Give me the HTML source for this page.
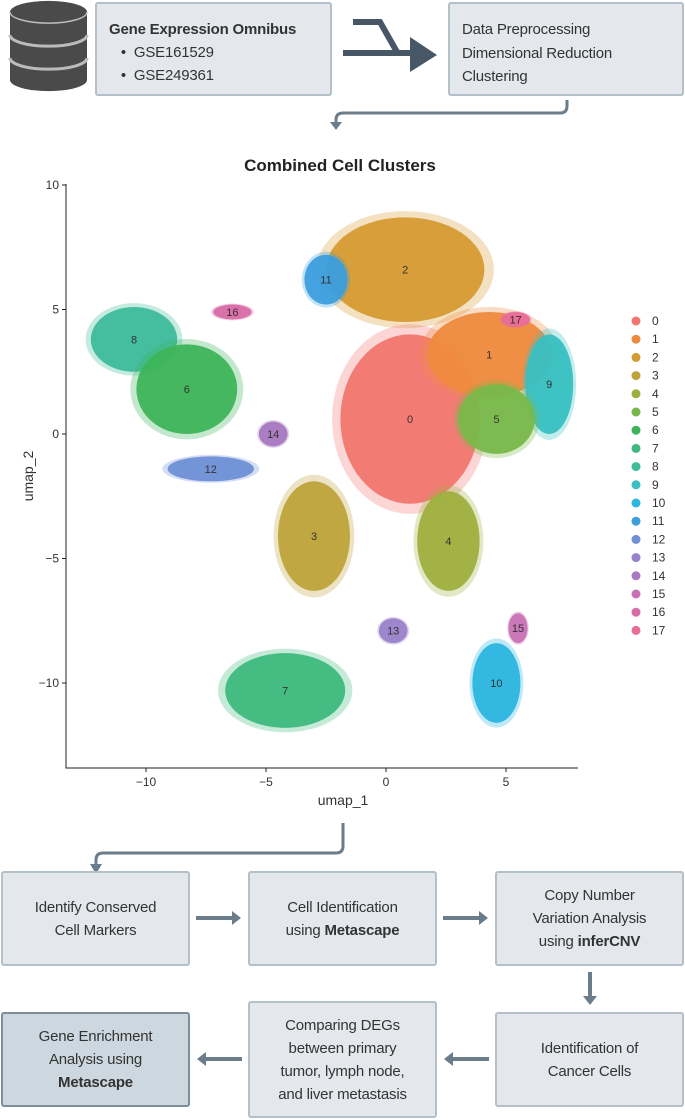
<!DOCTYPE html>
<html><head><meta charset="utf-8"><style>
body{margin:0;width:685px;height:1120px;background:#fff;font-family:"Liberation Sans",sans-serif;position:relative;overflow:hidden}
.box{position:absolute;box-sizing:border-box;background:#e4e8ec;border:2px solid #b3bfc9;border-radius:3px;color:#333;font-size:15px;letter-spacing:-0.2px;display:flex;align-items:center;justify-content:center;text-align:center;line-height:23px}
svg{position:absolute;left:0;top:0}
</style></head><body>
<svg width="685" height="1120">
<g fill="#4a4a4a">
<path d="M10,12 a38,11 0 0 1 77,0 v68 a38,11 0 0 1 -77,0 z"/>
<path d="M10,35 a38,11 0 0 0 77,0" fill="none" stroke="#bbb" stroke-width="3"/>
<path d="M10,58 a38,11 0 0 0 77,0" fill="none" stroke="#bbb" stroke-width="3"/>
<path d="M10,12 a38,11 0 0 0 77,0" fill="none" stroke="#bbb" stroke-width="1.5"/>
</g>
<g stroke="#475766" stroke-width="6" fill="none">
<path d="M353,22 H380 L397,52"/><path d="M343,53 H412"/>
<polygon points="410,37 437,55 410,72" fill="#475766" stroke="none"/>
</g>
<g stroke="#6b7c8a" stroke-width="3" fill="none">
<path d="M567,100 V106 Q567,113 560,113 H343 Q336,113 336,120 V124"/>
<polygon points="330,122 342,122 336,130" fill="#6b7c8a" stroke="none"/>
</g>
<g stroke="#6b7c8a" stroke-width="3" fill="none">
<path d="M343,823 V846 Q343,853 336,853 H103 Q96,853 96,860 V866"/>
<polygon points="90,864 102,864 96,874" fill="#6b7c8a" stroke="none"/>
</g>
<g stroke="#6b7c8a" stroke-width="4" fill="#6b7c8a">
<path d="M196,918 H234"/><polygon points="232,911 241,918 232,925" stroke="none"/>
<path d="M443,918 H481"/><polygon points="479,911 488,918 479,925" stroke="none"/>
<path d="M590,972 V998"/><polygon points="583,996 590,1005 597,996" stroke="none"/>
<path d="M489,1059 H451"/><polygon points="453,1052 444,1059 453,1066" stroke="none"/>
<path d="M242,1059 H204"/><polygon points="206,1052 197,1059 206,1066" stroke="none"/>
</g>
<text x="340" y="171" text-anchor="middle" font-size="17" font-weight="bold" fill="#222">Combined Cell Clusters</text>
<g id="plot"></g>
</svg>
<div class="box" style="left:95px;top:2px;width:237px;height:94px;display:block;text-align:left;padding:14px 0 0 12px;line-height:23px"><b>Gene Expression Omnibus</b><br>&nbsp;&nbsp;&nbsp;•&nbsp;&nbsp;GSE161529<br>&nbsp;&nbsp;&nbsp;•&nbsp;&nbsp;GSE249361</div>
<div class="box" style="left:448px;top:2px;width:236px;height:94px;display:block;text-align:left;padding:14px 0 0 12px;line-height:23.5px">Data Preprocessing<br>Dimensional Reduction<br>Clustering</div>
<div class="box" style="left:1px;top:871px;width:189px;height:95px"><div>Identify Conserved<br>Cell Markers</div></div>
<div class="box" style="left:248px;top:871px;width:189px;height:95px"><div>Cell Identification<br>using <b>Metascape</b></div></div>
<div class="box" style="left:495px;top:871px;width:189px;height:95px"><div>Copy Number<br>Variation Analysis<br>using <b>inferCNV</b></div></div>
<div class="box" style="left:1px;top:1012px;width:189px;height:95px;background:#cdd7df;border-color:#7d8e9b"><div>Gene Enrichment<br>Analysis using<br><b>Metascape</b></div></div>
<div class="box" style="left:248px;top:1001px;width:189px;height:117px"><div>Comparing DEGs<br>between primary<br>tumor, lymph node,<br>and liver metastasis</div></div>
<div class="box" style="left:495px;top:1012px;width:189px;height:95px"><div>Identification of<br>Cancer Cells</div></div>
<script>
const clusters=["0","1","2","3","4","5","6","7","8","9","10","11","12","13","14","15","16","17"];
const cx=[1.0,4.3,0.8,-3.0,2.6,4.6,-8.3,-4.2,-10.5,6.8,4.6,-2.5,-7.3,0.3,-4.7,5.5,-6.4,5.4];
const cy=[0.6,3.2,6.6,-4.1,-4.3,0.6,1.8,-10.3,3.8,2.0,-10.0,6.2,-1.4,-7.9,0.0,-7.8,4.9,4.6];
const rxs=[2.9,2.6,3.3,1.5,1.3,1.6,2.1,2.5,1.8,1.0,1.0,0.9,1.8,0.6,0.6,0.4,0.8,0.6];
const rys=[3.4,1.7,2.1,2.2,2.0,1.4,1.8,1.5,1.3,2.0,1.6,1.0,0.5,0.5,0.5,0.6,0.3,0.3];
const colors=["#F1766F","#EE8A3E","#D69A33","#BFA33A","#9EAF3E","#78B84A","#3DB459","#3EB97D","#3EBC9C","#38C0C2","#2BB5E0","#3C9EDD","#6F8FD6","#9A82C9","#A878C0","#C872B5","#D96CA8","#E96C9A"];
const drawOrder=[2,11,0,1,9,5,17,8,6,16,12,14,3,4,13,15,10,7];
const xTicks=[-10,-5,0,5], yTicks=[10,5,0,-5,-10];
const X=v=>386+v*24, Y=v=>434-v*24.9;
const NS="http://www.w3.org/2000/svg", g=document.getElementById('plot');
function mk(t,a){const e=document.createElementNS(NS,t);for(const k in a)e.setAttribute(k,a[k]);g.appendChild(e);return e;}
drawOrder.forEach(i=>{
 const h=mk('ellipse',{cx:X(cx[i]),cy:Y(cy[i]),rx:rxs[i]*24*1.12,ry:rys[i]*24.9*1.12,fill:colors[i],opacity:0.3});
 
 
 const e=mk('ellipse',{cx:X(cx[i]),cy:Y(cy[i]),rx:rxs[i]*24,ry:rys[i]*24.9,fill:colors[i],opacity:0.95});
 
 
});
clusters.forEach((c,i)=>{
 const t=mk('text',{x:X(cx[i]),y:Y(cy[i])+4,'text-anchor':'middle','font-size':11,fill:'#333'});t.textContent=c;
 
 
 const d=mk('circle',{cx:636,cy:321+i*18.2,r:4.5,fill:colors[i]});
 
 
 const l=mk('text',{x:652,y:325+i*18.2,'font-size':12,fill:'#333'});l.textContent=c;
 
 
});
const ax=mk('path',{d:'M66,184 V768 H578',stroke:'#222','stroke-width':1,fill:'none'});


xTicks.forEach(v=>{mk('line',{x1:X(v),x2:X(v),y1:768,y2:772,stroke:'#222'});
 const t=mk('text',{x:X(v),y:786,'text-anchor':'middle','font-size':12,fill:'#333'});t.textContent=(v<0?'\u2212':'')+Math.abs(v);
 
 });
yTicks.forEach(v=>{mk('line',{x1:62,x2:66,y1:Y(v),y2:Y(v),stroke:'#222'});
 const t=mk('text',{x:59,y:Y(v)+4,'text-anchor':'end','font-size':12,fill:'#333'});t.textContent=(v<0?'\u2212':'')+Math.abs(v);
 
 });
const xl=mk('text',{x:343,y:805,'text-anchor':'middle','font-size':14,fill:'#333'});xl.textContent='umap_1';


const yl=mk('text',{x:0,y:0,'text-anchor':'middle','font-size':14,fill:'#333',transform:'translate(33,476) rotate(-90)'});yl.textContent='umap_2';


</script>
</body></html>
